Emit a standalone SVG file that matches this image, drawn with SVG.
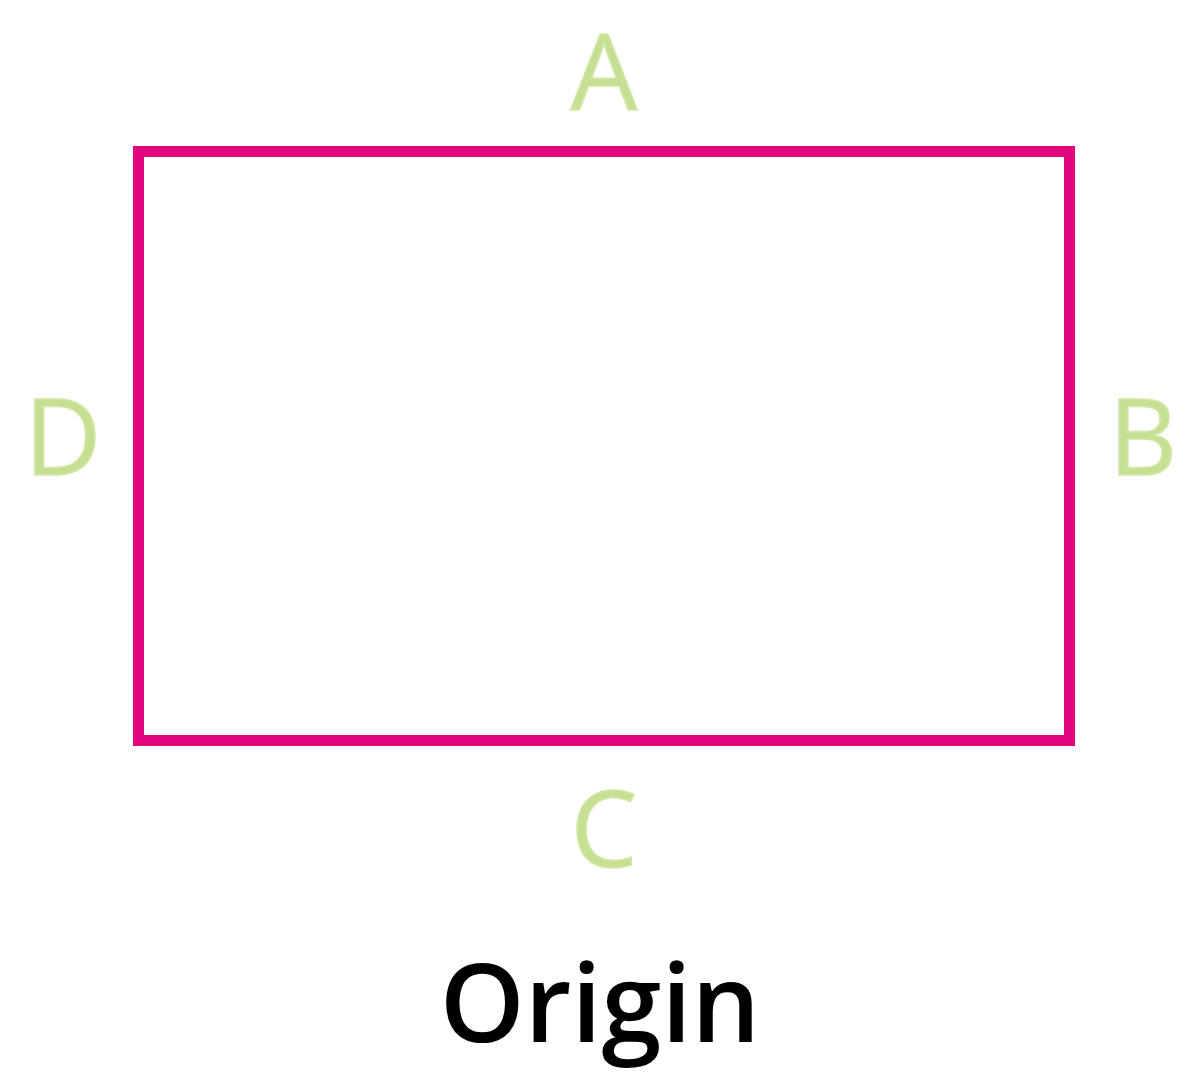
<svg xmlns="http://www.w3.org/2000/svg" width="1200" height="1092" viewBox="0 0 1200 1092">
<style>
.lbl{font-family:"Open Sans","Liberation Sans",sans-serif;font-size:106px;fill:#C6DF92;stroke:#D3E8A8;stroke-width:1.5;text-anchor:middle}
.title{font-family:"Open Sans","Liberation Sans",sans-serif;font-size:108px;font-weight:600;fill:#000;text-anchor:middle}
</style>
<rect width="1200" height="1092" fill="#fff"/>
<g id="rect"><rect x="138.5" y="151.5" width="931" height="589" fill="none" stroke="#E1087E" stroke-width="11"/></g>
<g id="labelA"><text class="lbl" x="604" y="110">A</text></g>
<g id="labelB"><text class="lbl" x="1143" y="475">B</text></g>
<g id="labelC"><text class="lbl" x="604" y="867">C</text></g>
<g id="labelD"><text class="lbl" x="63" y="475">D</text></g>
<g id="title"><text class="title" x="600" y="1042">Origin</text></g>
</svg>
